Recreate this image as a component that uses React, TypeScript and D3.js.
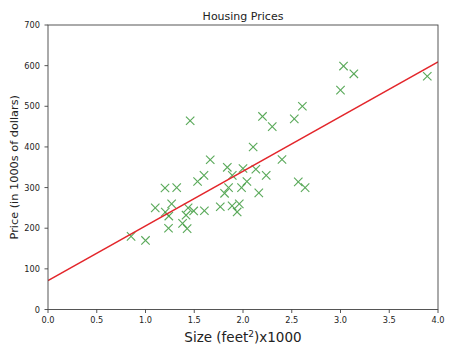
import React from "react";
import * as d3 from "d3";

const sizes = [2.104,1.6,2.4,1.416,3.0,1.985,1.534,1.427,1.38,1.494,1.94,2.0,1.89,4.478,1.268,2.3,1.32,1.236,2.609,3.031,1.767,1.888,1.604,1.962,3.89,1.1,1.458,2.526,2.2,2.637,1.839,1.0,2.04,3.137,1.811,1.437,1.239,2.132,4.215,2.162,1.664,2.238,2.567,1.2,0.852,1.852,1.203];
const prices = [399.9,329.9,369,232,539.9,299.9,314.9,199,212,242.5,240,347,330,699.9,259.9,449.9,299.9,199.9,500,599,252.9,255,242.9,259.9,573.9,249.9,464.5,469,475,299.9,349.9,169.9,314.9,579.9,285.9,249.9,229.9,345,549,287,368.5,329.9,314,299,179.9,299.9,239.5];
const fitIntercept = 71.27;
const fitSlope = 134.53;
const xTicks = [0,0.5,1,1.5,2,2.5,3,3.5,4];
const yTicks = [0,100,200,300,400,500,600,700];

export default function App() {
  const W = 474, H = 356;
  const L = 48, R = 438, T = 25, B = 309.5;
  const x = d3.scaleLinear().domain([0, 4]).range([L, R]);
  const y = d3.scaleLinear().domain([0, 700]).range([B, T]);
  const pts = sizes.map((s, i) => ({ s, p: prices[i] })).filter(d => d.s <= 4 && d.p <= 700);
  const line = d3.line<number>().x(d => x(d)).y(d => y(fitIntercept + fitSlope * d));
  const font = "'DejaVu Sans', sans-serif";
  const m = 4.2;
  return (
    <svg width={W} height={H} style={{ position: "absolute", left: 0, top: 0, background: "#fff" }} fontFamily={font}>
      <defs>
        <clipPath id="c"><rect x={L} y={T} width={R - L} height={B - T} /></clipPath>
      </defs>
      <text x={(L + R) / 2} y={19.5} textAnchor="middle" fontSize={11} fill="#222">Housing Prices</text>
      <g clipPath="url(#c)">
        {pts.map((d, i) => (
          <g key={i} stroke="#3c9a3c" strokeWidth={1.1} opacity={0.85}>
            <line x1={x(d.s) - m} y1={y(d.p) - m} x2={x(d.s) + m} y2={y(d.p) + m} />
            <line x1={x(d.s) - m} y1={y(d.p) + m} x2={x(d.s) + m} y2={y(d.p) - m} />
          </g>
        ))}
        <path d={line([0, 4]) || ""} stroke="#e3262b" strokeWidth={1.4} fill="none" />
      </g>
      <rect x={L} y={T} width={R - L} height={B - T} fill="none" stroke="#444" strokeWidth={0.9} />
      {xTicks.map(t => (
        <g key={t}>
          <line x1={x(t)} x2={x(t)} y1={B} y2={B + 3.5} stroke="#444" strokeWidth={0.9} />
          <text x={x(t)} y={323} textAnchor="middle" fontSize={8.2} fill="#222">{t.toFixed(1)}</text>
        </g>
      ))}
      {yTicks.map(t => (
        <g key={t}>
          <line x1={L - 3.5} x2={L} y1={y(t)} y2={y(t)} stroke="#444" strokeWidth={0.9} />
          <text x={40} y={y(t) + 3} textAnchor="end" fontSize={8.2} fill="#222">{t}</text>
        </g>
      ))}
      <text x={(L + R) / 2} y={342} textAnchor="middle" fontSize={13.5} fill="#222">
        Size (feet<tspan dy={-5} fontSize={9}>2</tspan><tspan dy={5}>)x1000</tspan>
      </text>
      <text transform={`translate(17.5,${(T + B) / 2}) rotate(-90)`} textAnchor="middle" fontSize={11.3} fill="#222">Price (in 1000s of dollars)</text>
    </svg>
  );
}
